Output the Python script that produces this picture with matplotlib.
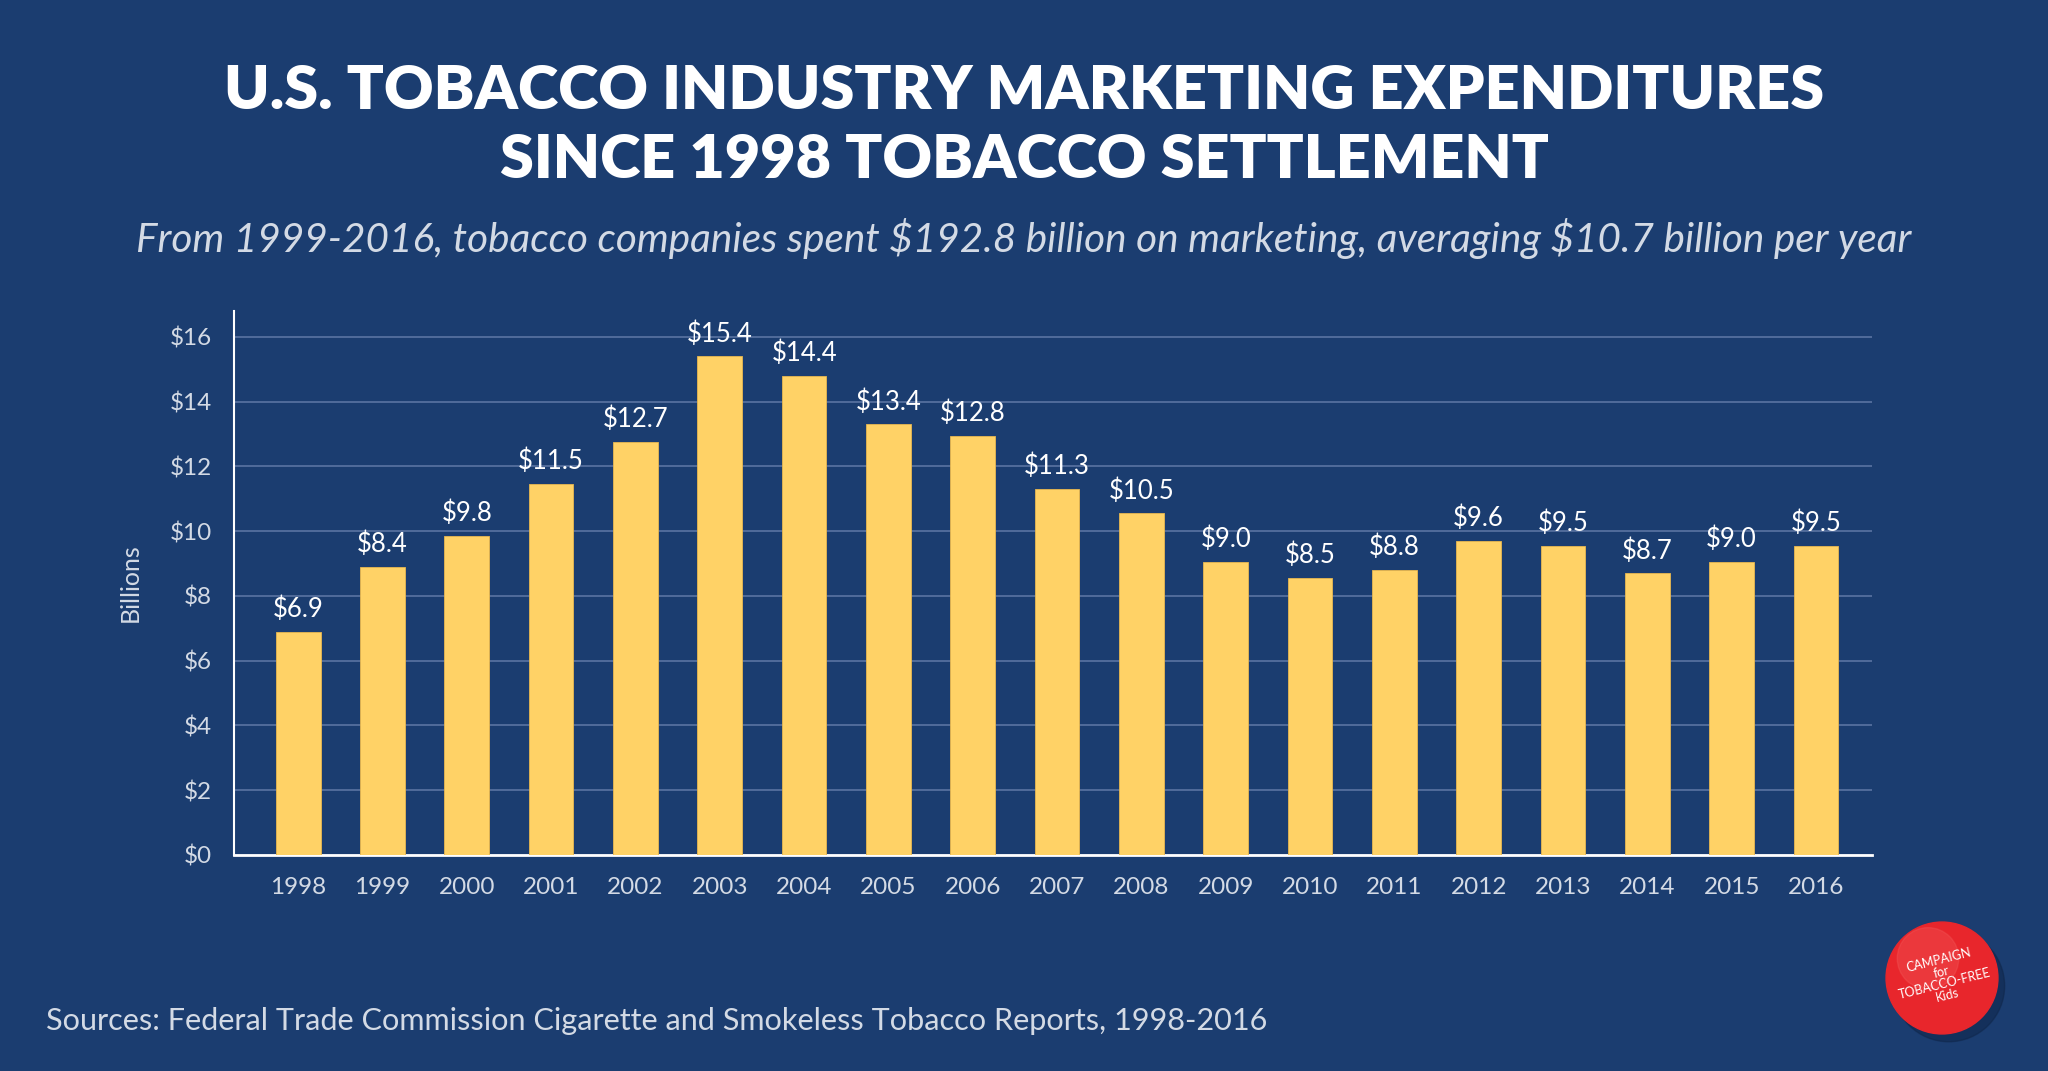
import matplotlib.pyplot as plt
from matplotlib.patches import Circle
import numpy as np

years = ["1998", "1999", "2000", "2001", "2002", "2003", "2004", "2005", "2006",
         "2007", "2008", "2009", "2010", "2011", "2012", "2013", "2014", "2015", "2016"]
# bar heights as drawn (billions)
spend = [6.9, 8.9, 9.85, 11.45, 12.75, 15.4, 14.8, 13.3, 12.95,
         11.3, 10.55, 9.05, 8.55, 8.8, 9.7, 9.55, 8.7, 9.05, 9.55]
# value labels as printed
value_labels = ["$6.9", "$8.4", "$9.8", "$11.5", "$12.7", "$15.4", "$14.4", "$13.4", "$12.8",
                "$11.3", "$10.5", "$9.0", "$8.5", "$8.8", "$9.6", "$9.5", "$8.7", "$9.0", "$9.5"]
yticks = [0, 2, 4, 6, 8, 10, 12, 14, 16]

BG = "#1b3d70"
BAR = "#ffd266"
GRID = "#5a74a2"
LIGHT = "#d3dae5"

plt.rcParams["font.family"] = ["Lato", "DejaVu Sans"]

fig = plt.figure(figsize=(20.48, 10.71), dpi=100, facecolor=BG)
ax = fig.add_axes([0.1143, 0.2017, 0.8, 0.508])
ax.set_facecolor(BG)

x = np.arange(len(years))
bars = ax.bar(x, spend, width=0.53, color=BAR, edgecolor="#e8b84f", linewidth=0.6, zorder=3)
for xi, h, lab in zip(x, spend, value_labels):
    ax.annotate(lab, xy=(xi, h), xytext=(0, 7), textcoords="offset points",
                ha="center", va="bottom", color="white", fontsize=18.5, parse_math=False)

ax.set_xlim(-0.76, 18.67)
ax.set_ylim(0, 16.8)
ax.set_yticks(yticks)
ax.set_yticklabels([f"${v}" for v in yticks])
ax.set_xticks(x)
ax.set_xticklabels(years)
ax.tick_params(axis="both", length=0, colors=LIGHT, labelsize=17.5)
ax.tick_params(axis="y", pad=16)
ax.tick_params(axis="x", pad=16)
ax.grid(axis="y", color=GRID, linewidth=1.2, zorder=0)
for s in ["top", "right"]:
    ax.spines[s].set_visible(False)
ax.spines["left"].set_color("white")
ax.spines["bottom"].set_color("white")
ax.spines["left"].set_linewidth(1.5)
ax.spines["bottom"].set_linewidth(2)
ax.set_ylabel("Billions", color=LIGHT, fontsize=18, labelpad=20)

fig.text(0.5, 0.915, "U.S. TOBACCO INDUSTRY MARKETING EXPENDITURES", ha="center", va="center",
         color="white", fontsize=44, fontweight="heavy")
fig.text(0.5, 0.851, "SINCE 1998 TOBACCO SETTLEMENT", ha="center", va="center",
         color="white", fontsize=44, fontweight="heavy")
fig.text(0.5, 0.777,
         "From 1999-2016, tobacco companies spent $192.8 billion on marketing, averaging $10.7 billion per year",
         ha="center", va="center", color=LIGHT, fontsize=29.2, style="italic", parse_math=False)
fig.text(0.0225, 0.047, "Sources: Federal Trade Commission Cigarette and Smokeless Tobacco Reports, 1998-2016",
         ha="left", va="center", color=LIGHT, fontsize=22.1, parse_math=False)

# logo badge
lax = fig.add_axes([(1942 - 80) / 2048, 1 - (978 + 80) / 1071, 160 / 2048, 160 / 1071])
lax.set_xlim(-1.43, 1.43)
lax.set_ylim(-1.43, 1.43)
lax.set_aspect("equal")
lax.axis("off")
lax.add_patch(Circle((0.12, -0.14), 1.0, color="#0f2548", alpha=0.5, zorder=1))
lax.add_patch(Circle((0, 0), 1.0, color="#e8262c", zorder=2))
lax.add_patch(Circle((-0.25, 0.35), 0.55, color="#f25a5a", alpha=0.35, zorder=3))
lax.text(0.02, 0.0, "CAMPAIGN\nfor\nTOBACCO-FREE\nKids", ha="center", va="center", color="white",
         fontsize=9, rotation=14, linespacing=1.0, zorder=4)

fig.savefig("out.png", dpi=100, facecolor=BG)
